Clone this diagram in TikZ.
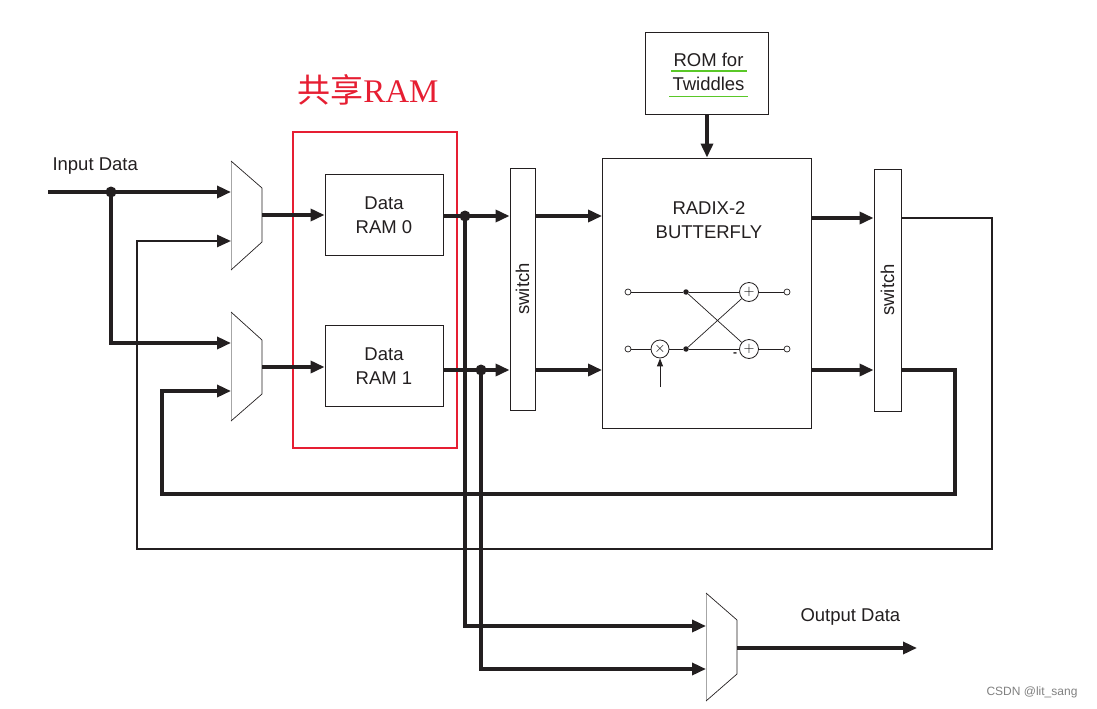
\documentclass[tikz,border=0pt]{standalone}
\usepackage{fontspec}
\setmainfont{Liberation Sans}
\newfontfamily\cjk{Noto Sans CJK SC}
\newfontfamily\serifrm{Liberation Serif}
\usetikzlibrary{arrows.meta}
\definecolor{ink}{RGB}{35,31,32}
\definecolor{redbox}{RGB}{230,30,50}
\definecolor{spell}{RGB}{90,200,40}
\begin{document}
\begin{tikzpicture}[x=1pt,y=-1pt,
  thick/.style={line width=3.4pt,draw=ink},
  mid/.style={line width=2.6pt,draw=ink},
  arr/.style={-{Triangle[length=14pt,width=12pt]}},
  box/.style={draw=ink,line width=0.9pt,fill=white},
  lbl/.style={font=\fontsize{18.5}{24}\selectfont,text=ink,align=center},
  dot/.style={circle,fill=ink,inner sep=0pt,minimum size=11pt},
  sdot/.style={circle,fill=ink,inner sep=0pt,minimum size=5.5pt},
  odot/.style={circle,draw=ink,fill=white,inner sep=0pt,minimum size=6pt,line width=0.7pt},
  op/.style={circle,draw=ink,fill=white,inner sep=0pt,minimum size=19pt,line width=0.8pt,font=\Large}]
\useasboundingbox (0,0) rectangle (1097,709);
% boxes
\node[box,minimum width=118pt,minimum height=81pt,lbl] (ram0) at (384,215) {Data\\RAM 0};
\node[box,minimum width=118pt,minimum height=81pt,lbl] (ram1) at (384,366) {Data\\RAM 1};
\node[box,minimum width=25pt,minimum height=242pt] (sw1) at (522.5,289) {};
\node[rotate=90,lbl] at (sw1.center) {switch};
\node[box,minimum width=27pt,minimum height=242pt] (sw2) at (887.5,290) {};
\node[rotate=90,lbl] at (sw2.center) {switch};
\node[box,minimum width=209pt,minimum height=270pt] (bf) at (707,293) {};
\node[lbl] at (709,220) {RADIX-2\\BUTTERFLY};
\node[box,minimum width=123pt,minimum height=82pt] (rom) at (707,73) {};
\node[lbl] (romt) at (708.5,72) {ROM for\\Twiddles};
\draw[spell,line width=1.2pt] (671,71) -- (747,71) (669,96.5) -- (748,96.5);
% muxes
\draw[draw=gray!70,line width=0.9pt] (231,161) -- (231,270);
\draw[ink,line width=0.7pt] (231,161) -- (262,188) -- (262,242) -- (231,270);
\draw[draw=gray!70,line width=0.9pt] (231,312) -- (231,421);
\draw[ink,line width=0.7pt] (231,312) -- (262,340) -- (262,394) -- (231,421);
\draw[draw=gray!70,line width=0.9pt] (706,593) -- (706,701);
\draw[ink,line width=0.7pt] (706,593) -- (737,620) -- (737,674) -- (706,701);
\coordinate (m1a) at (231,192); \coordinate (m1b) at (231,241); \coordinate (m1o) at (262,215);
\coordinate (m2a) at (231,343); \coordinate (m2b) at (231,391); \coordinate (m2o) at (262,367);
\coordinate (m3a) at (706,626); \coordinate (m3b) at (706,669); \coordinate (m3o) at (737,648);
\coordinate (inp) at (48,192); \coordinate (outp) at (917,648);
% red box
\draw[redbox,line width=2.4pt] (293,132) rectangle (457,448);
\node[text=redbox,font=\fontsize{33}{38}\selectfont] at (368,90) {{\cjk 共享}{\serifrm RAM}};
% input
\node[lbl,anchor=west] at (49,166) {Input Data};
\draw[thick,arr] (inp) -- (m1a);
\node[dot] (d0) at (111,192) {};
\draw[thick,arr] (d0.center) |- (m2a);
\draw[thick,arr] (m1o) -- (ram0.west |- m1o);
\draw[thick,arr] (m2o) -- (ram1.west |- m2o);
% ram outputs
\draw[thick,arr] (ram0.east |- 0,216) -- (sw1.west |- 0,216);
\draw[thick,arr] (ram1.east |- 0,370) -- (sw1.west |- 0,370);
\node[dot] (d1) at (465,216) {};
\node[dot] (d2) at (481,370) {};
\draw[thick,arr] (d1.center) |- (m3a);
\draw[thick,arr] (d2.center) |- (m3b);
\draw[thick,arr] (m3o) -- (outp);
\node[lbl,anchor=west] at (797,617) {Output Data};
% switch1 to butterfly
\draw[thick,arr] (sw1.east |- 0,216) -- (bf.west |- 0,216);
\draw[thick,arr] (sw1.east |- 0,370) -- (bf.west |- 0,370);
\draw[thick,arr] (rom.south) -- (bf.north);
\draw[thick,arr] (bf.east |- 0,218) -- (sw2.west |- 0,218);
\draw[thick,arr] (bf.east |- 0,370) -- (sw2.west |- 0,370);
% feedback
\coordinate (c1) at (992,218); \coordinate (c2) at (992,549); \coordinate (c3) at (137,549); \coordinate (c4) at (137,241);
\draw[mid,arr] (sw2.east |- 0,218) -- (c1) -- (c2) -- (c3) -- (c4) -- (m1b);
\coordinate (e1) at (955,370); \coordinate (e2) at (955,494); \coordinate (e3) at (162,494); \coordinate (e4) at (162,391);
\draw[thick,arr] (sw2.east |- 0,370) -- (e1) -- (e2) -- (e3) -- (e4) -- (m2b);
% butterfly internals
\node[odot] (i1) at (628,292) {}; \node[odot] (i2) at (628,349) {};
\node[sdot] (j1) at (686,292) {}; \node[sdot] (j2) at (686,349) {};
\node[op] (p1) at (749,292) {$+$}; \node[op] (p2) at (749,349) {$+$};
\node[op,minimum size=18pt] (x1) at (660,349) {$\times$};
\node[odot] (o1) at (787,292) {}; \node[odot] (o2) at (787,349) {};
\draw[ink,line width=0.8pt] (i1) -- (j1) -- (p1) -- (o1);
\draw[ink,line width=0.8pt] (i2) -- (x1) -- (j2) -- (p2) -- (o2);
\draw[ink,line width=0.7pt] (j1) -- (p2) (j2) -- (p1);
\coordinate (tw) at (660,387);
\draw[ink,line width=0.9pt,-{Triangle[length=8pt,width=6pt]}] (tw) -- (x1);
\node[text=ink,font=\bfseries\large] at (735,355) {-};
\node[text=gray,font=\fontsize{12}{14}\selectfont] at (1032,692) {CSDN @lit\_sang};
\end{tikzpicture}
\end{document}
